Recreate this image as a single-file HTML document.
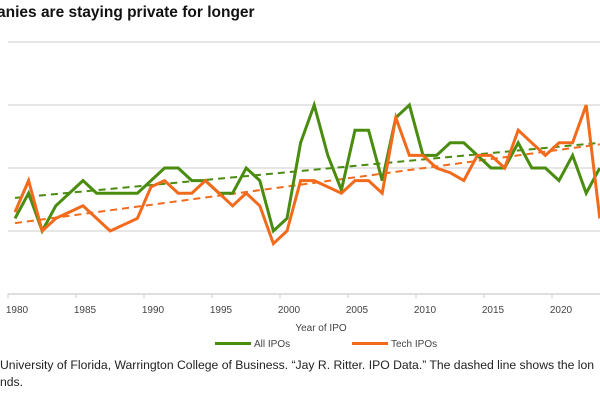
<!DOCTYPE html>
<html><head><meta charset="utf-8"><style>
body{margin:0;background:#fff;width:600px;height:400px;overflow:hidden;font-family:"Liberation Sans",sans-serif}
svg{display:block}
</style></head><body>
<svg width="600" height="400">
<text x="-3" y="17" font-size="15.5" font-weight="bold" fill="#111">anies are staying private for longer</text>
<g id="grid"></g>
<g id="axis"></g>
<g id="series"></g>
<text x="321" y="331" font-size="10" fill="#444" text-anchor="middle">Year of IPO</text>
<g><line x1="215" y1="343.5" x2="251" y2="343.5" stroke="#4a8c0f" stroke-width="3"/><text x="254" y="347" font-size="10" fill="#444">All IPOs</text></g>
<g><line x1="352" y1="343.5" x2="388" y2="343.5" stroke="#f26a1b" stroke-width="3"/><text x="391" y="347" font-size="10" fill="#444">Tech IPOs</text></g>
<text x="0" y="369" font-size="12.2" fill="#222">University of Florida, Warrington College of Business. “Jay R. Ritter. IPO Data.” The dashed line shows the lon</text>
<text x="0" y="386" font-size="12.2" fill="#222">nds.</text>
</svg>
<script>
const years=[];for(let y=1980;y<=2023;y++)years.push(y);
const allIPOs=[4.8,6.4,4.0,5.6,6.4,7.2,6.4,6.4,6.4,6.4,7.2,8.0,8.0,7.2,7.2,6.4,6.4,8.0,7.2,4.0,4.8,9.6,12,8.8,6.6,10.4,10.4,7.2,11.2,12,8.8,8.8,9.6,9.6,8.8,8.0,8.0,9.6,8.0,8.0,7.2,8.8,6.4,8.0];
const techIPOs=[5.2,7.2,4.0,4.8,5.2,5.6,4.8,4.0,4.4,4.8,6.8,7.2,6.4,6.4,7.2,6.4,5.6,6.4,5.6,3.2,4.0,7.2,7.2,6.8,6.4,7.2,7.2,6.4,11.2,8.8,8.8,8.0,7.7,7.2,8.8,8.8,8.0,10.4,9.6,8.8,9.6,9.6,12,4.8];
const allTrend=[6.1,9.6];
const techTrend=[4.5,9.5];
const yTicks=[0,4,8,12,16];
const xTicks=[1980,1985,1990,1995,2000,2005,2010,2015,2020];
const NS="http://www.w3.org/2000/svg";
const X=y=>15+(y-1980)*13.6;
const Y=v=>294-v/4*63;
function mk(t,a,p){const e=document.createElementNS(NS,t);for(const k in a)e.setAttribute(k,a[k]);p.appendChild(e);return e;}
const grid=document.getElementById('grid'),axis=document.getElementById('axis'),ser=document.getElementById('series');
yTicks.forEach(v=>{const l=mk('line',{x1:8,x2:600,y1:Y(v),y2:Y(v),stroke:v===0?'#ccc':'#d6d6d6','stroke-width':1.3},grid);

});
xTicks.forEach(y=>{const t=mk('line',{x1:X(y)-7,x2:X(y)-7,y1:294,y2:298,stroke:'#ccc'},axis);


const tx=mk('text',{x:X(y)+2,y:313,'font-size':10,fill:'#444','text-anchor':'middle'},axis);tx.textContent=y;

});
function trend(tv,c,n){const l=mk('line',{x1:X(1980),y1:Y(tv[0]),x2:X(2023),y2:Y(tv[1]),stroke:c,'stroke-width':2,'stroke-dasharray':'7,5'},ser);

}
function line(vals,c,n){const p=mk('polyline',{points:vals.map((v,i)=>X(years[i])+','+Y(v)).join(' '),fill:'none',stroke:c,'stroke-width':3,'stroke-linejoin':'miter'},ser);

}
trend(allTrend,'#4a8c0f','all-ipos-trend');
trend(techTrend,'#f26a1b','tech-ipos-trend');
line(allIPOs,'#4a8c0f','all-ipos-line');
line(techIPOs,'#f26a1b','tech-ipos-line');
</script>
</body></html>
